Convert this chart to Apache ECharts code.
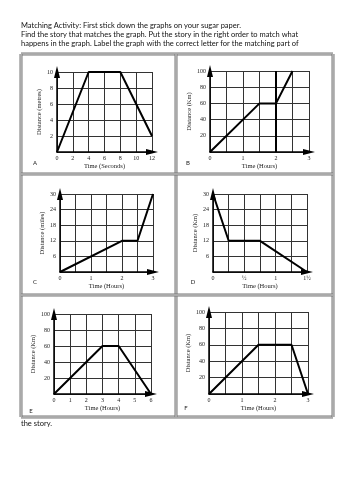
<!DOCTYPE html>
<html>
<head>
<meta charset="utf-8">
<script src="https://cdn.jsdelivr.net/npm/echarts@6/dist/echarts.min.js"></script>
<style>
  html, body { margin: 0; padding: 0; background: #fff; }
  #chart { width: 353px; height: 500px; }
</style>
</head>
<body>
<div id="chart"></div>
<script>
// graph data, one pair of arrays per graph
const aTime = [0, 4, 8, 12];
const aDist = [0, 10, 10, 2];
const bTime = [0, 1.5, 2, 2.5];
const bDist = [0, 60, 60, 100];
const cTime = [0, 2, 2.5, 3];
const cDist = [0, 12, 12, 30];
const dTime = [0, 0.25, 0.75, 1.5];
const dDist = [30, 12, 12, 0];
const eTime = [0, 3, 4, 6];
const eDist = [0, 60, 60, 0];
const fTime = [0, 1.5, 2.5, 3];
const fDist = [0, 60, 60, 0];

// the heavy gridline in graph B
const bHeavyTime = [2, 2];
const bHeavyDist = [0, 100];

const letters = ['A', 'B', 'C', 'D', 'E', 'F'];
const xNames = ['Time (Seconds)', 'Time (Hours)', 'Time (Hours)', 'Time (Hours)', 'Time (Hours)', 'Time (Hours)'];
const yNames = ['Distance (metres)', 'Distance (Km)', 'Distance (miles)', 'Distance (Km)', 'Distance (Km)', 'Distance (Km)'];
const hourLabels = { 0: '0', 1: '1', 2: '2', 3: '3' };
const dHourLabels = { 0: '0', 0.5: '½', 1: '1', 1.5: '1½' };

const headerLines = [
  'Matching Activity: First stick down the graphs on your sugar paper.',
  'Find the story that matches the graph. Put the story in the right order to match what',
  'happens in the graph. Label the graph with the correct letter for the matching part of'
];
const footerText = 'the story.';

const chart = echarts.init(document.getElementById('chart'));

// grid boxes (left, top, width, height) and axis ranges
const boxes = [
  [57, 72, 95, 80],
  [210, 71, 99, 81],
  [60, 194, 93, 78],
  [213, 194, 94, 78],
  [54, 314, 97, 80],
  [209, 312, 99, 82]
];
const xRanges = [[0, 12, 2], [0, 3, 0.5], [0, 3, 0.5], [0, 1.5, 0.25], [0, 6, 1], [0, 3, 0.5]];
const yRanges = [[0, 10, 2], [0, 100, 20], [0, 30, 6], [0, 30, 6], [0, 100, 20], [0, 100, 20]];
const xLabelMaps = [null, hourLabels, hourLabels, dHourLabels, null, hourLabels];
const series = [[aTime, aDist], [bTime, bDist], [cTime, cDist], [dTime, dDist], [eTime, eDist], [fTime, fDist]];

const serif = 'Liberation Serif';
const grids = [], xAxes = [], yAxes = [], seriesList = [];

boxes.forEach(function (b, i) {
  grids.push({ left: b[0], top: b[1], width: b[2], height: b[3], outerBoundsMode: 'none' });
  const lineStyle = { color: '#000', width: 1.5 };
  xAxes.push({
    gridIndex: i, type: 'value',
    min: xRanges[i][0], max: xRanges[i][1], interval: xRanges[i][2],
    name: xNames[i], nameLocation: 'middle', nameGap: 11,
    nameTextStyle: { fontFamily: serif, fontSize: 6.5, color: '#222' },
    axisLine: { lineStyle: lineStyle, symbol: ['none', 'triangle'], symbolSize: [6, 12] },
    axisTick: { show: false },
    axisLabel: {
      margin: 3, fontFamily: serif, fontSize: 6, color: '#222',
      formatter: function (v) {
        const m = xLabelMaps[i];
        if (!m) return String(v);
        return m[v] !== undefined ? m[v] : '';
      }
    },
    splitLine: { show: true, lineStyle: { color: '#333', width: 1 } }
  });
  yAxes.push({
    gridIndex: i, type: 'value',
    min: yRanges[i][0], max: yRanges[i][1], interval: yRanges[i][2],
    name: yNames[i], nameLocation: 'middle', nameGap: 13,
    nameTextStyle: { fontFamily: serif, fontSize: 6.5, color: '#222' },
    axisLine: { lineStyle: lineStyle, symbol: ['none', 'triangle'], symbolSize: [6, 12] },
    axisTick: { show: false },
    axisLabel: {
      margin: 4, fontFamily: serif, fontSize: 6, color: '#222',
      formatter: function (v) { return v === 0 ? '' : String(v); }
    },
    splitLine: { show: true, lineStyle: { color: '#333', width: 1 } }
  });
  seriesList.push({
    type: 'line', xAxisIndex: i, yAxisIndex: i, symbol: 'none',
    lineStyle: { color: '#000', width: 2 }, silent: true, animation: false,
    data: series[i][0].map(function (t, k) { return [t, series[i][1][k]]; })
  });
});

seriesList.push({
  type: 'line', xAxisIndex: 1, yAxisIndex: 1, symbol: 'none',
  lineStyle: { color: '#000', width: 2 }, silent: true, animation: false,
  data: bHeavyTime.map(function (t, k) { return [t, bHeavyDist[k]]; })
});

// table borders and text
const sans = 'Lato';
const graphics = [];
headerLines.forEach(function (t, k) {
  graphics.push({ type: 'text', left: 21, top: 22 + k * 8.7,
    style: { text: t, font: '7.5px ' + sans, fill: '#111' } });
});
graphics.push({ type: 'text', left: 21, top: 420, style: { text: footerText, font: '7.5px ' + sans, fill: '#111' } });

function dbl(shape) {
  graphics.push({ type: 'line', shape: shape, style: { stroke: '#777', lineWidth: 3 } });
  graphics.push({ type: 'line', shape: shape, style: { stroke: '#ddd', lineWidth: 1 } });
}
dbl({ x1: 21, y1: 54, x2: 333, y2: 54 });
dbl({ x1: 21, y1: 417, x2: 333, y2: 417 });
dbl({ x1: 21, y1: 54, x2: 21, y2: 417 });
dbl({ x1: 333, y1: 54, x2: 333, y2: 417 });
dbl({ x1: 176, y1: 54, x2: 176, y2: 417 });
dbl({ x1: 21, y1: 174, x2: 333, y2: 174 });
dbl({ x1: 21, y1: 295, x2: 333, y2: 295 });

const letterPos = [[35, 163], [188, 163], [35, 282], [193, 282], [31, 411], [186, 408]];
letterPos.forEach(function (p, i) {
  graphics.push({ type: 'text', x: p[0], y: p[1],
    style: { text: letters[i], font: '6px ' + sans, fill: '#222', textAlign: 'center', textVerticalAlign: 'middle' } });
});

chart.setOption({
  animation: false,
  grid: grids,
  xAxis: xAxes,
  yAxis: yAxes,
  series: seriesList,
  graphic: graphics
});
</script>
</body>
</html>
